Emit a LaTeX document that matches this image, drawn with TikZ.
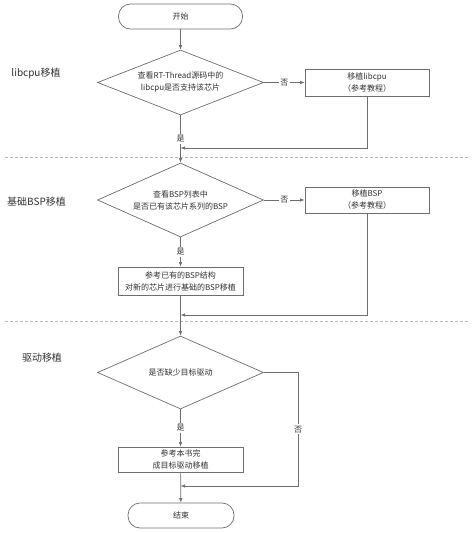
\documentclass[tikz,border=0pt]{standalone}
\usepackage{fontspec}
\setmainfont{Noto Sans CJK SC}
\usetikzlibrary{shapes.geometric,arrows.meta,positioning}
\definecolor{lncol}{RGB}{110,110,110}
\definecolor{txtcol}{RGB}{50,50,50}
\definecolor{sepcol}{RGB}{185,185,185}

\begin{document}
\begin{tikzpicture}[x=1pt, y=-1pt, line width=0.7pt, font=\fontsize{8}{12}\selectfont, text=txtcol]
\tikzstyle{term}=[draw=lncol, rectangle, rounded corners=12pt, minimum width=124pt, minimum height=25pt, inner sep=0pt]
\tikzstyle{decide}=[draw=lncol, diamond, aspect=2.55, minimum width=166pt, inner sep=0pt, align=center]
\tikzstyle{proc}=[draw=lncol, rectangle, minimum width=124pt, minimum height=27pt, inner sep=0pt, align=center]
\tikzstyle{lbl}=[fill=white, inner sep=1.5pt]
\tikzstyle{sect}=[font=\fontsize{10}{12}\selectfont]
\tikzstyle{arr}=[draw=lncol, -{Latex[length=4.5pt,width=3.5pt]}]
\tikzstyle{sep}=[draw=sepcol, dash pattern=on 3pt off 2pt]

\useasboundingbox (0,0) rectangle (474,533);

% section titles
\node[sect] (s1) at (36,73) {libcpu移植};
\node[sect] (s2) at (36.5,202) {基础BSP移植};
\node[sect] (s3) at (42,358) {驱动移植};

\node[term] (start) at (180.5,16.5) {开始};
\node[decide, minimum height=65pt] (d1) at (180.5,82.5) {查看RT-Thread源码中的\\libcpu是否支持该芯片};
\node[proc] (b1) at (367,82.5) {移植libcpu\\（参考教程）};
\node[decide, minimum height=74pt] (d2) at (180.5,200) {查看BSP列表中\\是否已有该芯片系列的BSP};
\node[proc, minimum height=26pt] (b2) at (367,200) {移植BSP\\（参考教程）};
\node[proc, minimum width=125pt, minimum height=28pt] (b3) at (180.5,281) {参考已有的BSP结构\\对新的芯片进行基础的BSP移植};
\node[decide, minimum height=73pt] (d3) at (180.5,372.5) {是否缺少目标驱动};
\node[proc, minimum width=125pt, minimum height=25pt] (b4) at (180.5,459.5) {参考本书完\\成目标驱动移植};
\node[term, minimum width=106pt] (end) at (181,515.5) {结束};

\coordinate (j1) at (180.5,148);
\coordinate (j2) at (180.5,315);
\coordinate (c3) at (298,486);
\coordinate (j3) at (180.5,486);

% separators
\draw[sep] (5,157) -- (468,157);
\draw[sep] (5,321) -- (468,321);

\draw[arr] (start) -- (d1);
\draw[arr] (d1) -- node[lbl]{否} (b1);
\draw[arr] (d1) -- node[lbl]{是} (d2);
\draw[arr] (b1) |- (j1);
\draw[arr] (d2) -- node[lbl]{否} (b2);
\draw[arr] (d2) -- node[lbl]{是} (b3);
\draw[arr] (b3) -- (d3);
\draw[arr] (b2) |- (j2);
\draw[arr] (d3) -- node[lbl]{是} (b4);
\draw[arr] (b4) -- (end);
\draw[arr] (d3) -| node[lbl, pos=0.75]{否} (c3) -- (j3);
\end{tikzpicture}
\end{document}
